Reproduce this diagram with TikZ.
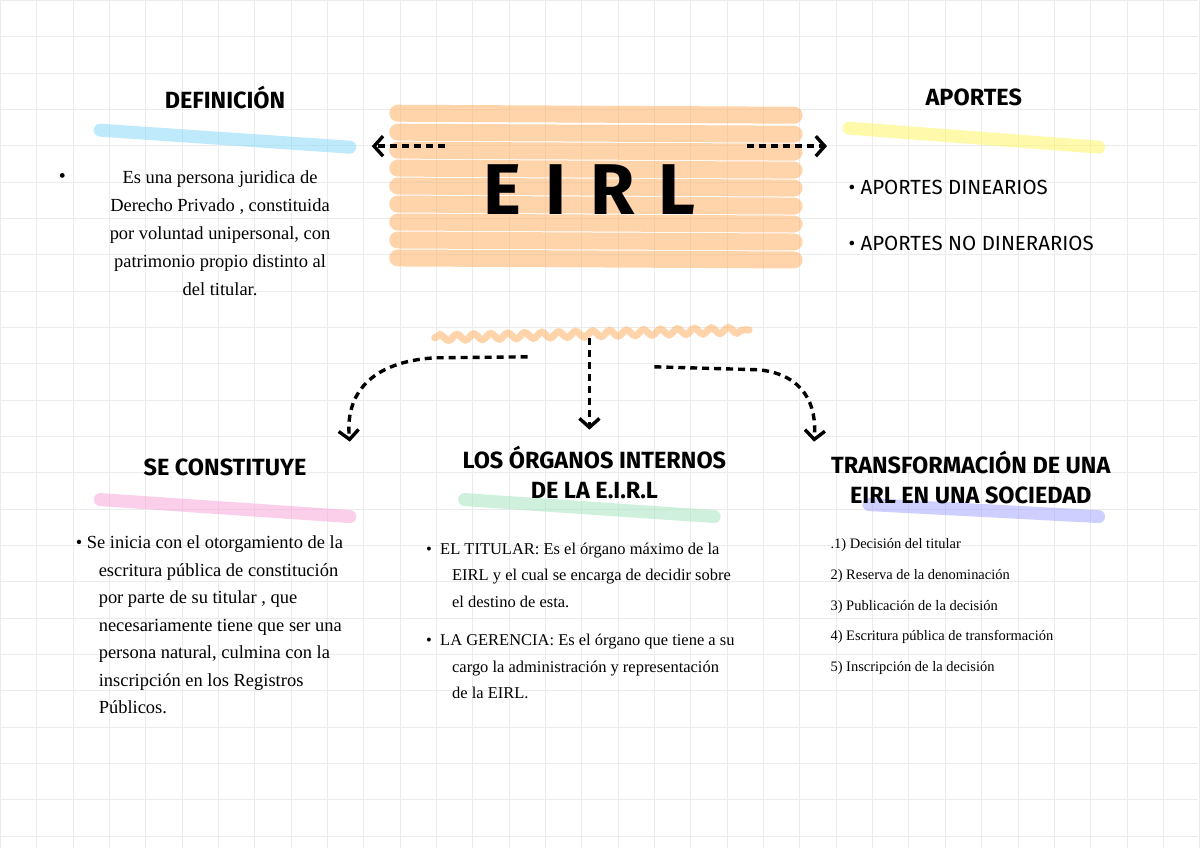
\documentclass[tikz,border=0pt]{standalone}
\usepackage{fontspec}
\setmainfont{Liberation Serif}
\newfontfamily\headf{Fira Sans}
\usetikzlibrary{arrows.meta,decorations.pathmorphing}
\begin{document}
\begin{tikzpicture}[x=1pt,y=-1pt,
  hl/.style={line width=#1, line cap=round, opacity=0.55},
  dsh/.style={line width=3.4pt, dash pattern=on 7pt off 5pt, -{Straight Barb[length=9pt,width=20pt,line width=3.4pt]}},
  head/.style={font=\headf\bfseries\fontsize{23.5}{30}\selectfont, align=center},
  body/.style={font=\fontsize{18.5}{27.5}\selectfont, align=left, anchor=north west},
  small/.style={font=\fontsize{16.5}{26.5}\selectfont, align=left, anchor=north west}]
\fill[white] (0,0) rectangle (1200,849);
\foreach \i in {0,...,33} \draw[black!8, line width=0.8pt] (\i*36.4,0) -- (\i*36.4,849);
\foreach \i in {0,...,23} \draw[black!8, line width=0.8pt] (0,\i*36.4) -- (1200,\i*36.4);
\useasboundingbox (0,0) rectangle (1200,849);
% EIRL orange block
\foreach \y in {113,132,150,168,186,204,222,240,258}
  \draw[hl=17pt, color=orange!60] (398,\y) -- (795,\y+2);
\node[font=\headf\bfseries\fontsize{72}{72}\selectfont] (eirl) at (590,190) {E\,\,I\,\,R\,\,L};
\draw[hl=7pt, color=orange!60, decorate, decoration={snake, amplitude=3pt, segment length=17pt}] (435,338) -- (750,330);
\coordinate (hub) at (590,338);
% highlights
\draw[hl=13pt, color=cyan!45] (100,130) -- (350,147);
\draw[hl=13pt, color=yellow!60] (850,128) -- (1100,147);
\draw[hl=13pt, color=magenta!35] (100,500) -- (350,517);
\draw[hl=13pt, color=green!40!teal!35] (465,500) -- (715,517);
\draw[hl=13pt, color=blue!35] (870,505) -- (1100,517);
% headings
\node[head] (def) at (225,97) {DEFINICIÓN};
\node[head] (apo) at (975,97) {APORTES};
\node[head] (sec) at (225,468) {SE CONSTITUYE};
\node[head] (org) at (595,473) {LOS ÓRGANOS INTERNOS\\DE LA E.I.R.L};
\node[head] (tra) at (972,478) {TRANSFORMACIÓN DE UNA\\EIRL EN UNA SOCIEDAD};
% top arrows
\coordinate (la) at (445,146); \coordinate (ra) at (748,146);
\draw[dsh] (la) -- (372,146);
\draw[dsh] (ra) -- (828,146);
% lower arrows
\coordinate (l1) at (528,357);
\draw[dsh] (l1) -- (435,358) .. controls (370,362) and (345,395) .. (350,442);
\draw[dsh] (hub) -- (590,430);
\coordinate (r1) at (655,367);
\draw[dsh] (r1) -- (760,370) .. controls (805,375) and (818,405) .. (815,442);
% texts
\node[font=\fontsize{20}{20}\selectfont] at (62,178) {•};
\node[font=\fontsize{18.5}{28}\selectfont, align=center] (dtxt) at (220,233) {Es una persona juridica de\\Derecho Privado , constituida\\por voluntad unipersonal, con\\patrimonio propio distinto al\\del titular.};
\node[font=\headf\fontsize{20.5}{28}\selectfont, align=left, anchor=north west] (atxt) at (846,177) {•\ APORTES DINEARIOS\\[28pt]•\ APORTES NO DINERARIOS};
\node[body] (stxt) at (72,533) {•\ Se inicia con el otorgamiento de la\\\hspace*{23pt}escritura pública de constitución\\\hspace*{23pt}por parte de su titular , que\\\hspace*{23pt}necesariamente tiene que ser una\\\hspace*{23pt}persona natural, culmina con la\\\hspace*{23pt}inscripción en los Registros\\\hspace*{23pt}Públicos.};
\node[small] (otxt) at (423,540) {•\ \ EL TITULAR: Es el órgano máximo de la\\\hspace*{26pt}EIRL y el cual se encarga de decidir sobre\\\hspace*{26pt}el destino de esta.\\[12pt]•\ \ LA GERENCIA: Es el órgano que tiene a su\\\hspace*{26pt}cargo la administración y representación\\\hspace*{26pt}de la EIRL.};
\node[small, font=\fontsize{14.5}{31}\selectfont] (ttxt) at (828,535) {.1) Decisión del titular\\2) Reserva de la denominación\\3) Publicación de la decisión\\4) Escritura pública de transformación\\5) Inscripción de la decisión};
\end{tikzpicture}
\end{document}
